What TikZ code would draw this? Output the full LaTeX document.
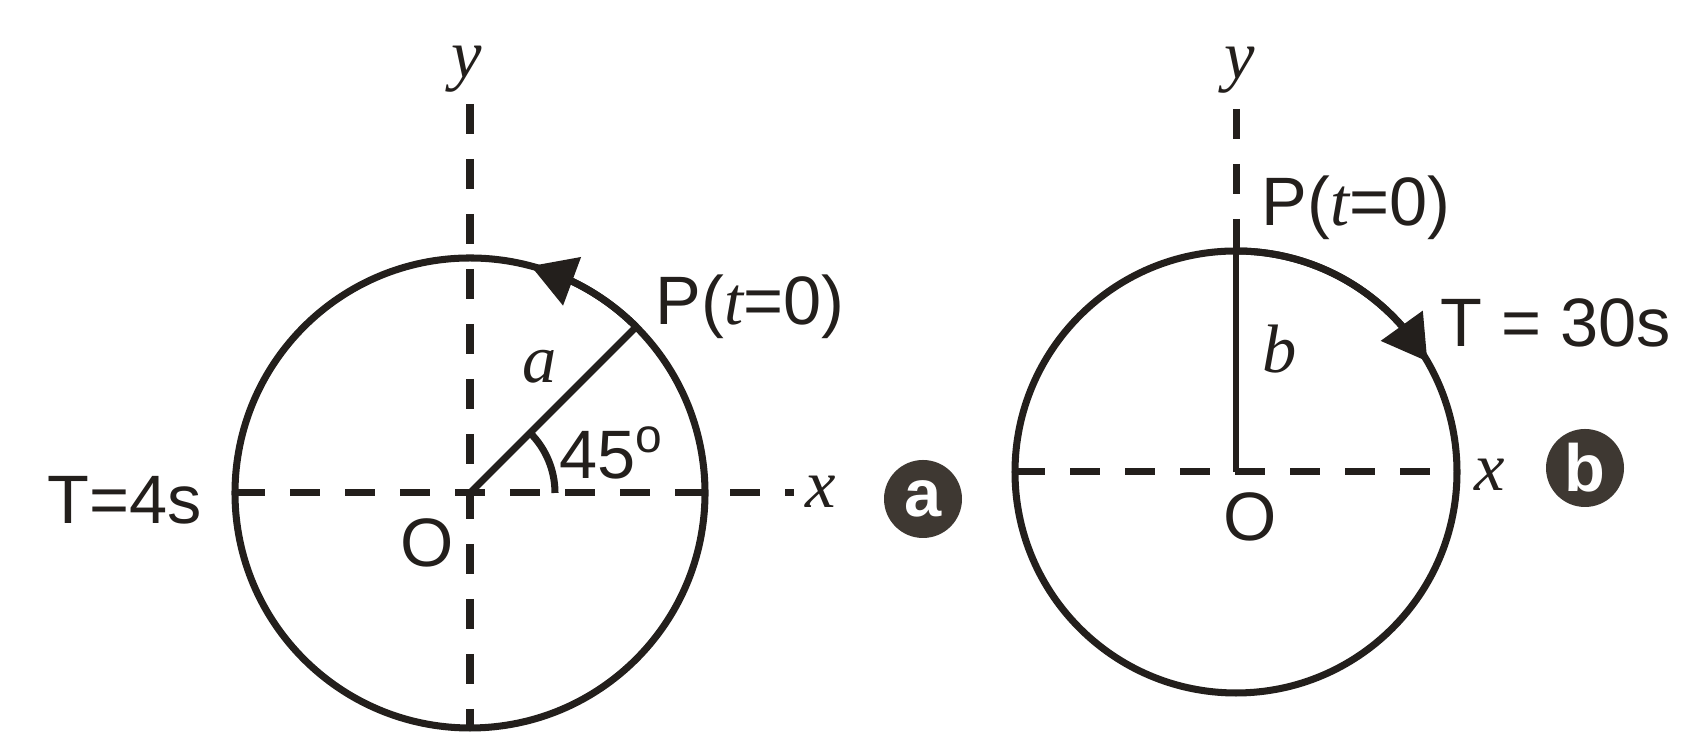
\documentclass[tikz,border=0pt]{standalone}
\usepackage{fontspec}
\setmainfont{Liberation Sans}
\newfontfamily\timesfont{Liberation Serif}
\usetikzlibrary{arrows.meta,bending,calc,positioning}
\definecolor{inkdark}{RGB}{35,31,28}
\definecolor{badgegray}{RGB}{62,56,50}
\newcommand{\ivar}[1]{{\timesfont\itshape #1}}

\begin{document}
\begin{tikzpicture}[
  font=\fontsize{19.5}{23}\selectfont, text=inkdark,
  rim/.style={inkdark, line width=2pt},
  axisline/.style={inkdark, line width=2pt, dash pattern=on 0.3cm off 0.25cm},
  arrowtip/.style={-{Triangle[length=0.44cm,width=0.5cm,flex]}},
  badge/.style={circle, fill=badgegray, text=white, minimum size=0.78cm, inner sep=0pt, font=\fontsize{19}{21}\selectfont\bfseries}
]
\useasboundingbox (0,0) rectangle (17,7.37);

% Circle a
\def\ra{2.35}
\coordinate (Oa) at (4.70,2.44);
\coordinate (aW) at ($(Oa)+(-\ra,0)$);
\coordinate (aS) at ($(Oa)+(0,-\ra)$);
\coordinate (aXend) at (7.94,2.44);
\coordinate (aYtop) at (4.70,6.33);
\coordinate (Pa) at ($(Oa)+(45:\ra)$);
\draw[rim] (Oa) circle (\ra);
\draw[axisline] (aW) -- (aXend);
\draw[axisline] (aYtop) -- (aS);
\draw[rim] (Oa) -- (Pa);
\draw[rim] ($(Oa)+(0.85,0)$) arc[start angle=0, end angle=45, radius=0.85];
\draw[rim, arrowtip] (Pa) arc[start angle=45, end angle=75, radius=\ra];
\node (yA) at (4.67,6.68) {\ivar{y}};
\node (xA) at (8.21,2.45) {\ivar{x}};
\node (TA) at (1.25,2.37) {T=4s};
\node (OA) at (4.27,1.94) {O};
\node (labA) at (5.40,3.70) {\ivar{a}};
\node (angA) at (6.12,2.84) {45\textsuperscript{o}};
\node (PA) at (7.50,4.30) {P(\ivar{t}=0)};
\node[badge] (badgeA) at (9.23,2.38) {a};

% Circle b
\def\rb{2.21}
\coordinate (Ob) at (12.36,2.65);
\coordinate (bW) at ($(Ob)+(-\rb,0)$);
\coordinate (bXend) at (14.50,2.65);
\coordinate (bYtop) at (12.36,6.28);
\coordinate (Pb) at ($(Ob)+(0,\rb)$);
\draw[rim] (Ob) circle (\rb);
\draw[axisline] (bW) -- (bXend);
\draw[axisline] (bYtop) -- (Pb);
\draw[inkdark, line width=1.8pt] (Pb) -- (Ob);
\draw[rim, arrowtip] (Pb) arc[start angle=90, end angle=30, radius=\rb];
\node (yB) at (12.40,6.67) {\ivar{y}};
\node (xB) at (14.90,2.62) {\ivar{x}};
\node (PB) at (13.56,5.29) {P(\ivar{t}=0)};
\node (TB) at (15.56,4.14) {T = 30s};
\node (OB) at (12.50,2.20) {O};
\node (labB) at (12.80,3.88) {\ivar{b}};
\node[badge] (badgeB) at (15.85,2.69) {b};
\end{tikzpicture}
\end{document}
